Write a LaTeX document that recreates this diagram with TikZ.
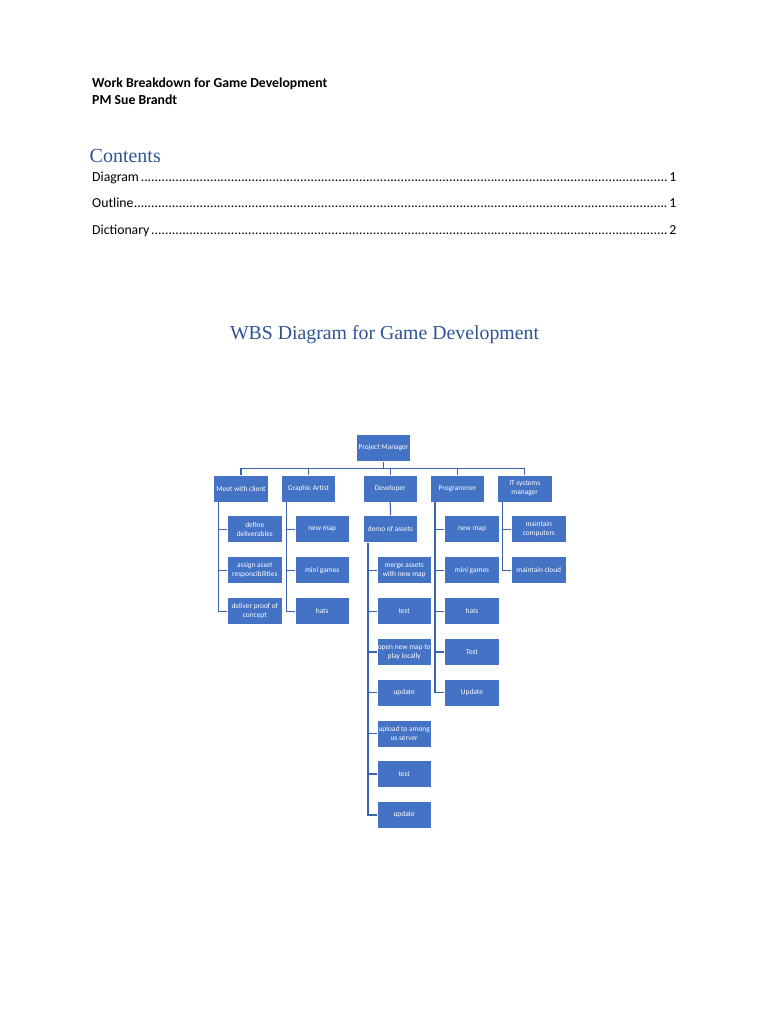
\documentclass[tikz,border=0pt]{standalone}
\usepackage{fontspec}
\setmainfont{Carlito}
\newfontfamily\serifhead{Liberation Serif}
\definecolor{boxblue}{HTML}{4472C4}
\definecolor{linkblue}{HTML}{3A63B0}
\definecolor{headblue}{HTML}{2F5496}
\begin{document}
\begin{tikzpicture}[x=1pt,y=-1pt,
  wbox/.style={rectangle, fill=boxblue, draw=white, line width=0.7pt,
    minimum width=54.5pt, minimum height=27pt, inner sep=0.5pt,
    text=white, align=center, font=\fontsize{7.4}{8.6}\selectfont},
  link/.style={draw=linkblue, line width=1.2pt},
  toc/.style={anchor=base west, inner sep=0pt, font=\fontsize{13.75}{16}\selectfont}]
\useasboundingbox[fill=white] (0,0) rectangle (768,1024);

% header
\node[anchor=base west, inner sep=0pt, font=\fontsize{13.75}{16}\selectfont\bfseries] (h1) at (92,87.5) {Work Breakdown for Game Development};
\node[anchor=base west, inner sep=0pt, font=\fontsize{13.75}{16}\selectfont\bfseries] (h2) at (92,104.3) {PM Sue Brandt};

% contents
\node[anchor=base west, inner sep=0pt, text=headblue, font=\serifhead\fontsize{20}{24}\selectfont] (cont) at (89.5,162.7) {Contents};
\node[toc] (t1) at (92,181.7) {\hbox to 585pt{Diagram\leaders\hbox{.}\hfill 1}};
\node[toc] (t2) at (92,207.7) {\hbox to 585pt{Outline\leaders\hbox{.}\hfill 1}};
\node[toc] (t3) at (92,234.3) {\hbox to 585pt{Dictionary\leaders\hbox{.}\hfill 2}};

% title
\node[anchor=base, inner sep=0pt, text=headblue, font=\serifhead\fontsize{19.8}{24}\selectfont] (title) at (384.5,339) {WBS Diagram for Game Development};

% level 1
\node[wbox] (pm) at (383.5,447.7) {Project Manager};
% level 2
\node[wbox] (meet) at (241,488.5) {Meet with client};
\node[wbox] (graph) at (308.5,488.5) {Graphic Artist};
\node[wbox] (dev) at (390.3,488.5) {Developer};
\node[wbox] (prog) at (457.5,488.5) {Programmer};
\node[wbox] (it) at (524.7,488.5) {IT systems\\manager};

% meet children
\node[wbox] (m1) at (254.8,529.3) {define\\deliverables};
\node[wbox] (m2) at (254.8,570.3) {assign asset\\responcibilities};
\node[wbox] (m3) at (254.8,611.3) {deliver proof of\\concept};
% graphic children
\node[wbox] (g1) at (322.2,529.3) {new map};
\node[wbox] (g2) at (322.2,570.3) {mini games};
\node[wbox] (g3) at (322.2,611.3) {hats};
% developer
\node[wbox] (demo) at (390.5,529.3) {demo of assets};
\node[wbox] (d1) at (404.2,570.3) {merge assets\\with new map};
\node[wbox] (d2) at (404.2,611.3) {test};
\node[wbox] (d3) at (404.2,652) {open new map to\\play locally};
\node[wbox] (d4) at (404.2,692.5) {update};
\node[wbox] (d5) at (404.2,733.5) {upload to among\\us server};
\node[wbox] (d6) at (404.2,774) {test};
\node[wbox] (d7) at (404.2,815) {update};
% programmer
\node[wbox] (p1) at (472,529.3) {new map};
\node[wbox] (p2) at (472,570.3) {mini games};
\node[wbox] (p3) at (472,611.3) {hats};
\node[wbox] (p4) at (472,652) {Test};
\node[wbox] (p5) at (472,692.5) {Update};
% IT
\node[wbox] (i1) at (538.8,529.3) {maintain\\computers};
\node[wbox] (i2) at (538.8,570.3) {maintain cloud};

% bus
\coordinate (bus) at (383.5,468.3);
\draw[link] (pm.south) -- (bus);
\draw[link] (meet.north |- bus) -- (it.north |- bus);
\foreach \n in {meet,graph,dev,prog,it}
  \draw[link] (\n.north |- bus) -- (\n.north);

% spines
\foreach \c in {m1,m2,m3} \draw[link] ([xshift=5pt]meet.south west) |- (\c.west);
\foreach \c in {g1,g2,g3} \draw[link] ([xshift=5.5pt]graph.south west) |- (\c.west);
\draw[link] (dev.south) -- (demo.north);
\foreach \c in {d1,d2,d3,d4,d5,d6,d7} \draw[link] ([xshift=5pt]demo.south west) |- (\c.west);
\foreach \c in {p1,p2,p3,p4,p5} \draw[link] ([xshift=5pt]prog.south west) |- (\c.west);
\foreach \c in {i1,i2} \draw[link] ([xshift=5pt]it.south west) |- (\c.west);
\end{tikzpicture}
\end{document}
